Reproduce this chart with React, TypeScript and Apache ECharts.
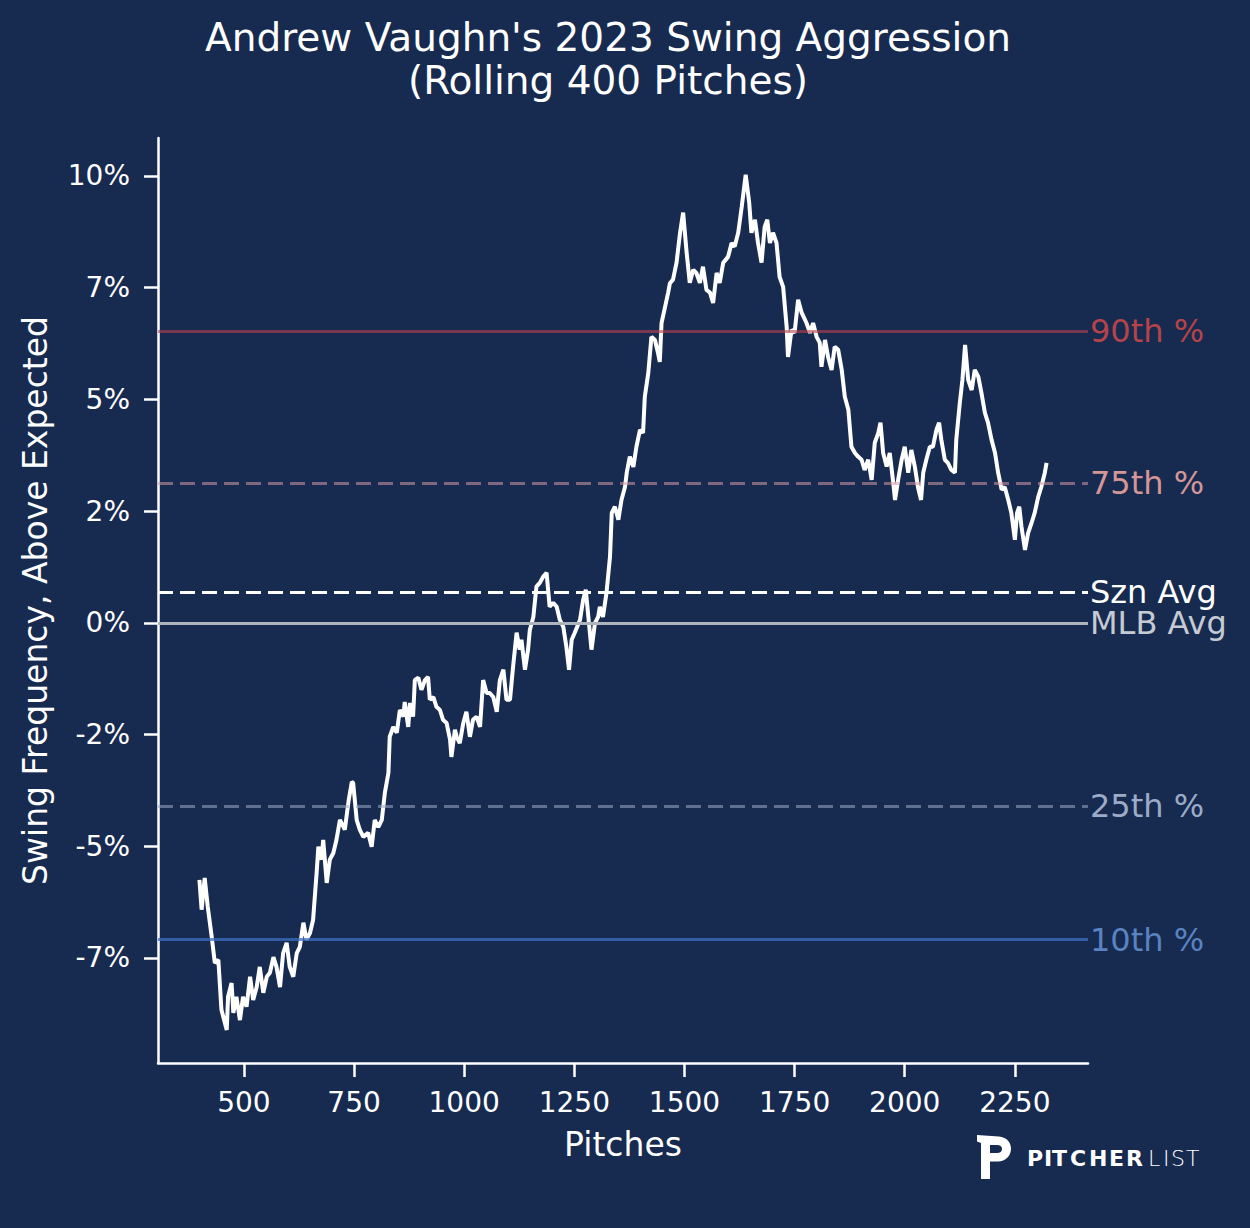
import React, { useEffect, useRef } from "react";
import * as echarts from "echarts";

// Rolling 400-pitch swing rate above expectation (percentage points), by pitch number
const pitches = [
  399, 404, 411, 418, 427, 434, 442, 449, 461, 464,
  472, 476, 483, 491, 498, 506, 514, 521, 529, 536,
  544, 552, 559, 567, 574, 582, 589, 597, 604, 612,
  620, 627, 635, 642, 650, 657, 665, 669, 676, 680,
  688, 695, 703, 710, 718, 729, 738, 745, 748, 756,
  763, 771, 782, 790, 797, 805, 813, 820, 828, 831,
  839, 847, 854, 862, 865, 873, 877, 884, 888, 896,
  903, 911, 918, 922, 930, 937, 945, 952, 960, 968,
  971, 979, 983, 990, 998, 1005, 1013, 1020, 1028, 1036,
  1043, 1051, 1058, 1066, 1074, 1081, 1089, 1096, 1104, 1111,
  1119, 1126, 1130, 1138, 1145, 1149, 1157, 1164, 1172, 1179,
  1187, 1194, 1202, 1210, 1217, 1225, 1232, 1238, 1244, 1251,
  1263, 1270, 1276, 1281, 1289, 1297, 1304, 1308, 1315, 1323,
  1331, 1335, 1342, 1350, 1357, 1365, 1369, 1376, 1384, 1391,
  1399, 1406, 1410, 1418, 1425, 1433, 1440, 1444, 1448, 1456,
  1463, 1467, 1474, 1482, 1490, 1497, 1505, 1512, 1520, 1527,
  1535, 1542, 1550, 1558, 1565, 1573, 1580, 1588, 1599, 1607,
  1614, 1622, 1630, 1639, 1647, 1652, 1660, 1667, 1675, 1682,
  1688, 1694, 1701, 1709, 1716, 1724, 1732, 1735, 1743, 1750,
  1758, 1766, 1777, 1785, 1792, 1800, 1807, 1811, 1819, 1826,
  1834, 1841, 1849, 1857, 1864, 1872, 1879, 1887, 1894, 1902,
  1909, 1917, 1925, 1932, 1940, 1945, 1951, 1959, 1966, 1974,
  1978, 1985, 1993, 2000, 2008, 2015, 2023, 2030, 2037, 2042,
  2049, 2057, 2064, 2072, 2078, 2083, 2091, 2098, 2106, 2114,
  2117, 2125, 2131, 2137, 2144, 2152, 2159, 2167, 2174, 2182,
  2189, 2197, 2205, 2212, 2220, 2227, 2235, 2242, 2250, 2255,
  2260, 2265, 2273, 2280, 2288, 2295, 2303, 2310, 2318, 2322,
];

const swingAboveExpected = [
  -5.75, -6.42, -5.71, -6.36, -7.03, -7.61, -7.54, -8.66, -9.11, -8.37,
  -8.06, -8.73, -8.37, -8.89, -8.37, -8.59, -7.92, -8.44, -8.15, -7.7,
  -8.28, -7.92, -7.83, -7.48, -7.7, -8.15, -7.39, -7.16, -7.7, -7.92,
  -7.39, -7.25, -6.71, -7.09, -6.94, -6.65, -5.6, -5.01, -5.3, -4.86,
  -5.82, -5.3, -5.15, -4.86, -4.41, -4.63, -3.96, -3.56, -3.58, -4.41,
  -4.63, -4.79, -4.7, -5.01, -4.41, -4.57, -4.41, -3.8, -3.36, -2.55,
  -2.33, -2.46, -1.95, -2.1, -1.77, -2.33, -1.79, -2.1, -1.28, -1.23,
  -1.5, -1.28, -1.21, -1.72, -1.66, -1.88, -1.95, -2.17, -2.24, -2.62,
  -3.0, -2.39, -2.55, -2.69, -2.24, -1.99, -2.55, -2.17, -2.1, -2.33,
  -1.28, -1.57, -1.57, -1.66, -1.99, -1.28, -1.05, -1.72, -1.72, -0.98,
  -0.22, -0.6, -0.38, -1.05, -0.6, -0.16, 0.13, 0.81, 0.9, 1.03,
  1.12, 0.36, 0.45, 0.36, 0.07, -0.09, -0.54, -1.05, -0.38, -0.22,
  0.07, 0.51, 0.74, 0.22, -0.6, 0.0, 0.13, 0.36, 0.13, 0.67,
  1.48, 2.46, 2.6, 2.31, 2.75, 3.04, 3.36, 3.72, 3.49, 3.94,
  4.32, 4.25, 5.06, 5.6, 6.4, 6.33, 6.04, 5.84, 6.71, 7.07,
  7.39, 7.6, 7.68, 8.06, 8.73, 9.18, 8.28, 7.61, 7.9, 7.83,
  7.61, 7.97, 7.45, 7.39, 7.16, 7.83, 7.61, 8.06, 8.19, 8.5,
  8.42, 8.73, 9.31, 10.03, 9.4, 8.73, 9.02, 8.5, 8.06, 8.86,
  9.02, 8.5, 8.73, 8.5, 7.74, 7.52, 6.62, 5.95, 6.56, 6.49,
  7.23, 6.94, 6.71, 6.49, 6.71, 6.4, 6.27, 5.73, 6.33, 5.95,
  5.66, 6.18, 6.11, 5.66, 5.06, 4.77, 3.94, 3.8, 3.72, 3.65,
  3.42, 3.65, 3.2, 4.03, 4.25, 4.48, 3.8, 3.5, 3.8, 3.13,
  2.75, 3.2, 3.65, 3.94, 3.36, 3.87, 3.49, 3.04, 2.75, 3.36,
  3.65, 3.94, 3.94, 4.32, 4.48, 4.1, 3.65, 3.58, 3.42, 3.36,
  4.1, 4.92, 5.44, 6.22, 5.44, 5.21, 5.66, 5.51, 5.15, 4.7,
  4.48, 4.1, 3.8, 3.36, 2.98, 3.04, 2.75, 2.46, 1.86, 2.46,
  2.6, 2.15, 1.63, 2.01, 2.24, 2.46, 2.82, 3.04, 3.36, 3.58,
];

// Reference levels (percentage points)
const refNames = ["90th %", "75th %", "Szn Avg", "MLB Avg", "25th %", "10th %"];
const refValues = [6.53, 3.13, 0.69, 0, -4.1, -7.09];

// Axis ticks
const xTicks = [500, 750, 1000, 1250, 1500, 1750, 2000, 2250];
const yTicks = [-7.5, -5, -2.5, 0, 2.5, 5, 7.5, 10];

const BG = "#172A4F";
const FONT = "DejaVu Sans";

const refStyles = [
  { line: "rgba(184,66,76,0.6)", dash: "solid", text: "#B5444A" },
  { line: "rgba(214,154,164,0.55)", dash: [15, 7], text: "#D49696" },
  { line: "#FFFFFF", dash: [15, 7], text: "#FFFFFF" },
  { line: "#AEB3BC", dash: "solid", text: "#C5CAD3" },
  { line: "rgba(154,170,200,0.55)", dash: [15, 7], text: "#9CACC8" },
  { line: "rgba(61,111,189,0.75)", dash: "solid", text: "#5A83C2" },
];

// Brand mark: stylised "P"
const P_MARK =
  "M0 0 L22 1.5 C29 2 34 7 34 13.5 C34 21 28.5 26.5 21 26.5 L13 26.5 L13 44 L4 44 L4 8 L0 6.5 Z";
const P_COUNTER =
  "M13 10 L20 10 C23 10 25 11.5 25 14 C25 16.5 23 18 20 18 L13 18 Z";

// Wordmark letters and their left edges
const brandBold = ["P", "I", "T", "C", "H", "E", "R"];
const brandBoldX = [1027, 1044, 1052, 1070, 1089, 1109, 1126];
const brandLight = ["L", "I", "S", "T"];
const brandLightX = [1148, 1163, 1171, 1186];

let shapesRegistered = false;
function registerShapes() {
  if (shapesRegistered) return;
  echarts.graphic.registerShape("plMark", echarts.graphic.extendPath(P_MARK, {}));
  echarts.graphic.registerShape("plCounter", echarts.graphic.extendPath(P_COUNTER, {}));
  shapesRegistered = true;
}

export default function App() {
  const ref = useRef<HTMLDivElement>(null);

  useEffect(() => {
    document.body.style.margin = "0";
    document.body.style.background = BG;
    registerShapes();
    const chart = echarts.init(ref.current!, null, { renderer: "svg" });

    const lineData = pitches.map((p, i) => [p, swingAboveExpected[i]]);

    const wordmark = [
      ...brandBold.map((ch, i) => ({
        type: "text",
        x: brandBoldX[i],
        y: 1158,
        style: {
          text: ch,
          fill: "#FFFFFF",
          font: `bold 22px '${FONT}'`,
          textVerticalAlign: "middle",
        },
      })),
      ...brandLight.map((ch, i) => ({
        type: "text",
        x: brandLightX[i],
        y: 1158,
        style: {
          text: ch,
          fill: "#FFFFFF",
          font: `200 22px '${FONT}'`,
          textVerticalAlign: "middle",
        },
      })),
    ];

    const option: any = {
      animation: false,
      backgroundColor: BG,
      textStyle: { fontFamily: FONT },
      grid: { left: 158, top: 138, width: 930, height: 925 },
      xAxis: {
        type: "value",
        min: 305,
        max: 2416,
        name: "Pitches",
        nameLocation: "middle",
        nameGap: 65,
        nameTextStyle: { color: "#FFFFFF", fontSize: 33, fontFamily: FONT },
        axisLine: { show: true, onZero: false, lineStyle: { color: "#FFFFFF", width: 2.5 } },
        axisTick: {
          show: true,
          length: 14,
          customValues: xTicks,
          lineStyle: { color: "#FFFFFF", width: 2.5 },
        },
        axisLabel: {
          color: "#FFFFFF",
          fontSize: 28,
          fontFamily: FONT,
          margin: 25,
          customValues: xTicks,
          formatter: (v: number) => String(v),
        },
        splitLine: { show: false },
      },
      yAxis: {
        type: "value",
        min: -9.85,
        max: 10.85,
        name: "Swing Frequency, Above Expected",
        nameLocation: "middle",
        nameGap: 106,
        nameTextStyle: { color: "#FFFFFF", fontSize: 33, fontFamily: FONT },
        axisLine: { show: true, onZero: false, lineStyle: { color: "#FFFFFF", width: 2.5 } },
        axisTick: {
          show: true,
          length: 14,
          customValues: yTicks,
          lineStyle: { color: "#FFFFFF", width: 2.5 },
        },
        axisLabel: {
          color: "#FFFFFF",
          fontSize: 28,
          fontFamily: FONT,
          margin: 28,
          customValues: yTicks,
          formatter: (v: number) => `${Math.trunc(v)}%`,
        },
        splitLine: { show: false },
      },
      series: [
        {
          type: "line",
          data: lineData,
          showSymbol: false,
          symbol: "none",
          z: 2,
          lineStyle: { color: "#FFFFFF", width: 4 },
          silent: true,
        },
        {
          type: "line",
          data: [],
          z: 5,
          silent: true,
          markLine: {
            silent: true,
            animation: false,
            symbol: ["none", "none"],
            data: refValues.map((v, i) => ({
              yAxis: v,
              lineStyle: {
                color: refStyles[i].line,
                opacity: 1,
                width: 3,
                type: refStyles[i].dash,
              },
              label: {
                show: true,
                position: "end",
                distance: 2,
                formatter: refNames[i],
                color: refStyles[i].text,
                fontSize: 32,
                fontFamily: FONT,
              },
            })),
          },
        },
      ],
      graphic: [
        {
          type: "text",
          x: 608,
          y: 16,
          style: {
            text: "Andrew Vaughn's 2023 Swing Aggression\n(Rolling 400 Pitches)",
            fill: "#FFFFFF",
            font: `39px '${FONT}'`,
            textAlign: "center",
            textVerticalAlign: "top",
            lineHeight: 43,
          },
        },
        {
          type: "plMark",
          x: 977,
          y: 1135,
          style: { fill: "#FFFFFF" },
        },
        {
          type: "plCounter",
          x: 977,
          y: 1135,
          style: { fill: BG },
        },
        ...wordmark,
      ],
    };

    chart.setOption(option);
    return () => chart.dispose();
  }, []);

  return <div ref={ref} style={{ width: 1250, height: 1228 }} />;
}
